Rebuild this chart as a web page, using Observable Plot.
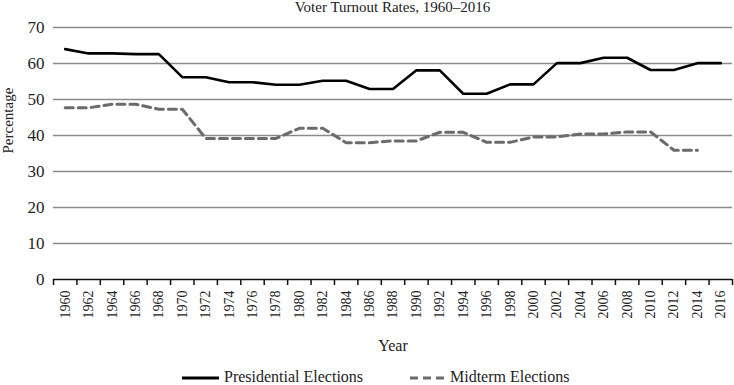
<!DOCTYPE html>
<html>
<head>
<meta charset="utf-8">
<script src="https://cdn.jsdelivr.net/npm/d3@7"></script>
<script src="https://cdn.jsdelivr.net/npm/@observablehq/plot@0.6"></script>
<style>
  html, body { margin: 0; padding: 0; background: #fff; }
  #wrap { position: relative; width: 734px; height: 385px; overflow: hidden; font-family: "Liberation Serif", "DejaVu Serif", serif; color: #222; }
  #title { position: absolute; top: 0px; left: 53px; width: 679px; text-align: center; font-size: 15px; line-height: 15px; }
  #chart { position: absolute; top: 12px; left: 0; }
  #chart svg, #chart svg text { font-family: "Liberation Serif", "DejaVu Serif", serif !important; font-variant: normal !important; }
  #legend { position: absolute; top: 369px; left: 0; width: 734px; height: 16px; font-size: 16px; line-height: 16px; }
  #legend .item { position: absolute; top: 0; display: flex; align-items: center; white-space: nowrap; }
  #legend svg { display: block; margin-right: 5px; }
</style>
</head>
<body>
<div id="wrap">
  <div id="title">Voter Turnout Rates, 1960–2016</div>
  <div id="chart"></div>
  <div id="legend"></div>
</div>
<script>
const years = [1960,1962,1964,1966,1968,1970,1972,1974,1976,1978,1980,1982,1984,1986,1988,1990,1992,1994,1996,1998,2000,2002,2004,2006,2008,2010,2012,2014,2016];
const presidential = [64.0,62.8,62.8,62.6,62.6,56.2,56.2,54.8,54.8,54.1,54.1,55.2,55.2,52.9,52.9,58.1,58.1,51.6,51.6,54.2,54.2,60.1,60.1,61.6,61.6,58.2,58.2,60.1,60.1];
const midterm = [47.7,47.7,48.7,48.7,47.3,47.3,39.2,39.2,39.2,39.2,42.0,42.0,38.0,38.0,38.5,38.5,40.9,40.9,38.1,38.1,39.6,39.6,40.4,40.4,41.0,41.0,35.9,35.9];
const yTicks = [0,10,20,30,40,50,60,70];
const seriesNames = ["Presidential Elections", "Midterm Elections"];
const seriesColors = ["#000000", "#6b6b6b"];
const seriesDash = [null, "8,5"];
const serif = "Liberation Serif";

const presData = years.map((year, i) => ({year, value: presidential[i]}));
const midData = years.map((year, i) => ({year, value: midterm[i]})).filter(d => d.value != null);
const bandEdges = years.map(y => y - 1).concat([years[years.length - 1] + 1]);

const chart = Plot.plot({
  width: 734,
  height: 350,
  marginTop: 15,
  marginBottom: 83,
  marginLeft: 53,
  marginRight: 2,
  style: {fontFamily: "'Liberation Serif', serif", fontSize: "15px", color: "#222", background: "transparent"},
  x: {type: "linear", domain: [bandEdges[0], bandEdges[bandEdges.length - 1]]},
  y: {domain: [0, 70]},
  marks: [
    Plot.gridY(yTicks.filter(d => d > 0), {stroke: "#8a8a8a", strokeOpacity: 1, strokeWidth: 1.4}),
    Plot.axisY(yTicks, {tickSize: 0, tickPadding: 9, fontSize: 17, fontFamily: serif, label: null}),
    Plot.axisX(bandEdges, {tickSize: 6, tickFormat: () => "", stroke: "#111", strokeWidth: 1.5, label: null}),
    Plot.axisX(years, {tickSize: 0, tickPadding: 11, tickRotate: -90, tickFormat: d => String(d), fontSize: 14, fontFamily: serif, label: null}),
    Plot.ruleY([0], {stroke: "#111", strokeWidth: 1.6}),
    Plot.line(presData, {x: "year", y: "value", stroke: seriesColors[0], strokeWidth: 2.6}),
    Plot.line(midData, {x: "year", y: "value", stroke: seriesColors[1], strokeWidth: 3, strokeDasharray: seriesDash[1]}),
    Plot.text(["Year"], {frameAnchor: "bottom", dy: 71, fontSize: 16, fontFamily: serif, fill: "#222"}),
    Plot.text(["Percentage"], {frameAnchor: "left", dx: -45, rotate: -90, fontSize: 15, fontFamily: serif, fill: "#222"})
  ]
});
document.getElementById("chart").appendChild(chart);

const legend = document.getElementById("legend");
const legendLeft = [182, 410];
seriesNames.forEach((name, i) => {
  const item = document.createElement("div");
  item.className = "item";
  item.style.left = legendLeft[i] + "px";
  const w = i === 0 ? 37 : 35;
  item.innerHTML = `<svg width="${w}" height="16"><line x1="0" x2="${w}" y1="9" y2="9" stroke="${seriesColors[i]}" stroke-width="3" ${seriesDash[i] ? `stroke-dasharray="${seriesDash[i]}"` : ""}/></svg><span>${name}</span>`;
  legend.appendChild(item);
});
</script>
</body>
</html>
